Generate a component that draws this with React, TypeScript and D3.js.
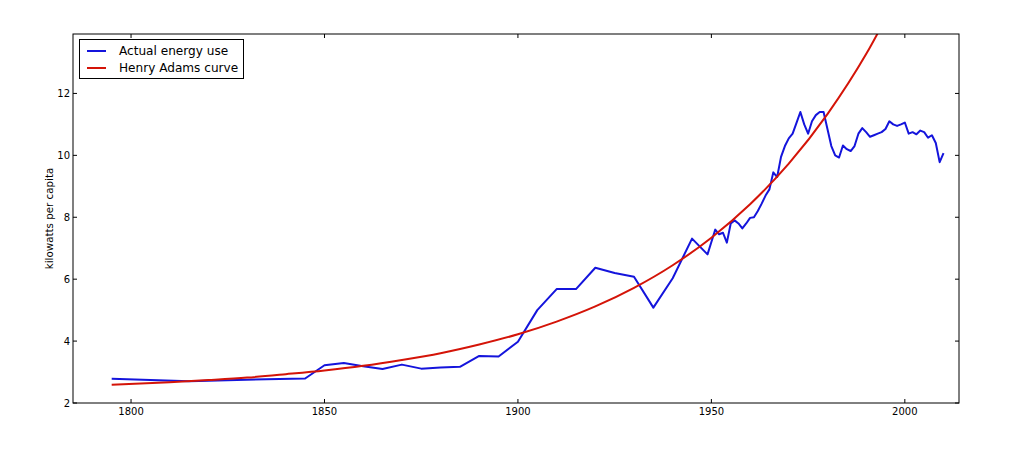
import React from 'react';
import * as d3 from 'd3';

// actual energy use, kilowatts per capita
const actualYears = [
  1795, 1815, 1835, 1845, 1850, 1855, 1860, 1865, 1870, 1875, 1880, 1885, 1890, 1895,
  1900, 1905, 1910, 1915, 1920, 1925, 1930, 1935, 1940, 1945,
  1949, 1950, 1951, 1952, 1953, 1954, 1955, 1956, 1957, 1958, 1959,
  1960, 1961, 1962, 1963, 1964, 1965, 1966, 1967, 1968, 1969,
  1970, 1971, 1972, 1973, 1974, 1975, 1976, 1977, 1978, 1979,
  1980, 1981, 1982, 1983, 1984, 1985, 1986, 1987, 1988, 1989,
  1990, 1991, 1992, 1993, 1994, 1995, 1996, 1997, 1998, 1999,
  2000, 2001, 2002, 2003, 2004, 2005, 2006, 2007, 2008, 2009, 2010,
];
const actualValues = [
  2.78, 2.7, 2.77, 2.79, 3.22, 3.29, 3.19, 3.1, 3.24, 3.11, 3.15, 3.17, 3.52, 3.5,
  3.98, 5.0, 5.68, 5.68, 6.37, 6.2, 6.08, 5.08, 6.03, 7.31,
  6.8, 7.2, 7.6, 7.45, 7.5, 7.18, 7.8, 7.9, 7.8, 7.64, 7.8,
  7.98, 8.0, 8.2, 8.44, 8.7, 8.9, 9.45, 9.3, 9.95, 10.3,
  10.55, 10.7, 11.05, 11.4, 11.0, 10.7, 11.1, 11.3, 11.4, 11.4,
  10.85, 10.3, 10.0, 9.93, 10.32, 10.2, 10.14, 10.3, 10.7, 10.88,
  10.75, 10.6, 10.65, 10.7, 10.75, 10.85, 11.1, 11.0, 10.95, 11.0,
  11.06, 10.7, 10.75, 10.68, 10.8, 10.75, 10.57, 10.65, 10.4, 9.78, 10.07,
];

const adamsYears = [
  1795, 1810, 1820, 1830, 1840, 1850, 1860, 1870, 1880, 1890, 1900,
  1910, 1920, 1930, 1940, 1950, 1960, 1970, 1980, 1990, 2000,
];
const adamsValues = [
  2.59, 2.67, 2.74, 2.82, 2.93, 3.05, 3.2, 3.39, 3.61, 3.89, 4.22,
  4.63, 5.12, 5.72, 6.45, 7.34, 8.42, 9.73, 11.33, 13.27, 15.64,
];

const xTicks = [1800, 1850, 1900, 1950, 2000];
const yTicks = [2, 4, 6, 8, 10, 12];

const seriesNames = ['Actual energy use', 'Henry Adams curve'];
const colors = ['#1414dc', '#d41408'];

const width = 1021;
const height = 450;
const margin = { top: 34, right: 62, bottom: 47, left: 73 };

const font = '"DejaVu Sans", sans-serif';

const App = () => {
  const x = d3.scaleLinear()
    .domain([1785, 2014])
    .range([margin.left, width - margin.right]);
  const y = d3.scaleLinear()
    .domain([2, 13.92])
    .range([height - margin.bottom, margin.top]);

  const line = d3.line<[number, number]>()
    .x(d => x(d[0]))
    .y(d => y(d[1]));
  const curve = d3.line<[number, number]>()
    .x(d => x(d[0]))
    .y(d => y(d[1]))
    .curve(d3.curveMonotoneX);

  const actual = actualYears.map((yr, i) => [yr, actualValues[i]] as [number, number]);
  const adams = adamsYears.map((yr, i) => [yr, adamsValues[i]] as [number, number]);

  const x0 = margin.left, x1 = width - margin.right;
  const y0 = margin.top, y1 = height - margin.bottom;
  const tick = 4;

  return (
    <svg width={width} height={height}
      style={{ position: 'absolute', left: 0, top: 0, background: '#fff' }}>
      <defs>
        <clipPath id="plot">
          <rect x={x0} y={y0} width={x1 - x0} height={y1 - y0} />
        </clipPath>
      </defs>

      <g clipPath="url(#plot)" fill="none" strokeWidth={2} strokeLinejoin="round">
        <path d={line(actual) || ''} stroke={colors[0]} />
        <path d={curve(adams) || ''} stroke={colors[1]} />
      </g>

      {/* frame */}
      <rect x={x0} y={y0} width={x1 - x0} height={y1 - y0}
        fill="none" stroke="#000" strokeWidth={1} />

      {/* x ticks, inside on top and bottom */}
      {xTicks.map(t => (
        <g key={t}>
          <line x1={x(t)} x2={x(t)} y1={y1} y2={y1 - tick} stroke="#000" />
          <line x1={x(t)} x2={x(t)} y1={y0} y2={y0 + tick} stroke="#000" />
          <text x={x(t)} y={y1 + 12} textAnchor="middle" fontFamily={font} fontSize={10}>{t}</text>
        </g>
      ))}

      {/* y ticks, inside on left and right */}
      {yTicks.map(t => (
        <g key={t}>
          <line x1={x0} x2={x0 + tick} y1={y(t)} y2={y(t)} stroke="#000" />
          <line x1={x1} x2={x1 - tick} y1={y(t)} y2={y(t)} stroke="#000" />
          <text x={x0 - 3} y={y(t)} dy="0.35em" textAnchor="end" fontFamily={font} fontSize={10}>{t}</text>
        </g>
      ))}

      <text transform={`translate(53,${(y0 + y1) / 2})rotate(-90)`} textAnchor="middle"
        fontFamily={font} fontSize={10.3}>kilowatts per capita</text>

      {/* legend */}
      <g>
        <rect x={79.5} y={39.5} width={164} height={39} fill="#fff" stroke="#000" strokeWidth={1} />
        {seriesNames.map((name, i) => (
          <g key={name} transform={`translate(0,${51 + i * 17})`}>
            <line x1={87} x2={106} y1={0} y2={0} stroke={colors[i]} strokeWidth={2} />
            <text x={119} y={0} dy="0.35em" fontFamily={font} fontSize={12.1}>{name}</text>
          </g>
        ))}
      </g>
    </svg>
  );
};

export default App;
